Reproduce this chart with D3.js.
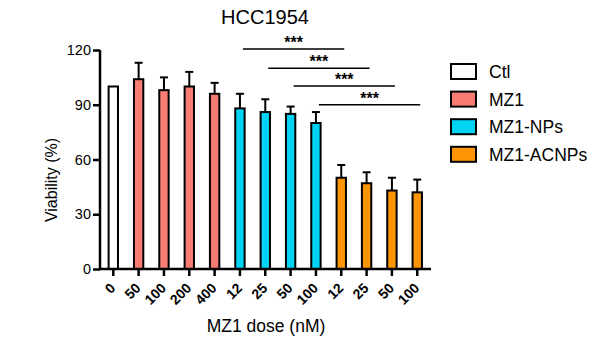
<!DOCTYPE html>
<html><head><meta charset="utf-8">
<script src="https://cdn.jsdelivr.net/npm/d3@7"></script>
<style>body{margin:0;background:#fff;} svg{display:block;font-family:"Liberation Sans",Arial,Helvetica,sans-serif;}</style>
</head><body><svg id="c" width="606" height="349"></svg>
<script>
const doseLabels = ["0","50","100","200","400","12","25","50","100","12","25","50","100"];
const groups = ["Ctl","MZ1","MZ1","MZ1","MZ1","MZ1-NPs","MZ1-NPs","MZ1-NPs","MZ1-NPs","MZ1-ACNPs","MZ1-ACNPs","MZ1-ACNPs","MZ1-ACNPs"];
const means = [100,104,98,100,96,88,86,85,80,50,47,43,42];
const errUpper = [100,113,105,108,102,96,93,89,86,57,53,50,49];
const legendNames = ["Ctl","MZ1","MZ1-NPs","MZ1-ACNPs"];
const legendColors = ["#ffffff","#f87c74","#00d4f4","#ff9505"];
const yTicks = [0,30,60,90,120];
const sigPairs = [[5,9],[6,10],[7,11],[8,12]];
const sigLevels = [120.5,110,100.3,90];
const sigLabels = ["***","***","***","***"];

const svg = d3.select("#c");
const x = d3.scaleBand().domain(d3.range(means.length)).range([95.95,434.6]).paddingInner(0.63).paddingOuter(0.5);
const y = d3.scaleLinear().domain([0,120]).range([269,50]);
const color = d3.scaleOrdinal().domain(legendNames).range(legendColors);

// bars
const g = svg.append("g");
means.forEach((m,i)=>{
  const cx = x(i)+x.bandwidth()/2;
  if (errUpper[i] > m) {
    g.append("line").attr("x1",cx).attr("x2",cx).attr("y1",y(m)).attr("y2",y(errUpper[i])).attr("stroke","#000").attr("stroke-width",2);
    g.append("line").attr("x1",cx-4).attr("x2",cx+4).attr("y1",y(errUpper[i])).attr("y2",y(errUpper[i])).attr("stroke","#000").attr("stroke-width",2);
  }
});
g.selectAll("rect").data(means).join("rect")
  .attr("x",(d,i)=>x(i)).attr("width",x.bandwidth())
  .attr("y",d=>y(d)).attr("height",d=>y(0)-y(d))
  .attr("fill",(d,i)=>color(groups[i])).attr("stroke","#000").attr("stroke-width",2);

// y axis
const ya = svg.append("g").attr("transform","translate(100,0)")
  .call(d3.axisLeft(y).tickValues(yTicks).tickSize(7).tickPadding(2));
ya.select(".domain").attr("stroke-width",2.5).attr("d",`M0,${y(120)}V${y(0)+1}`);
ya.selectAll(".tick line").attr("stroke-width",2.5);
ya.selectAll(".tick text").attr("font-size",14.5).attr("fill","#000").attr("font-family","Liberation Sans, Arial");

// x axis
const xa = svg.append("g").attr("transform",`translate(0,${y(0)})`)
  .call(d3.axisBottom(x).tickFormat(i=>doseLabels[i]).tickSize(7).tickPadding(4));
xa.select(".domain").attr("stroke-width",2.5).attr("d","M99,0H431");
xa.selectAll(".tick line").attr("stroke-width",2.5);
xa.selectAll(".tick text").attr("font-size",14).attr("font-weight","bold").attr("fill","#000")
  .attr("font-family","Liberation Sans, Arial")
  .attr("text-anchor","end").attr("x",0).attr("y",0).attr("dy",0)
  .attr("transform","translate(3,20) rotate(-45)");

// significance
sigPairs.forEach((p,k)=>{
  const x1 = x(p[0])+x.bandwidth()/2+3, x2 = x(p[1])+x.bandwidth()/2+3;
  const yy = y(sigLevels[k]);
  svg.append("line").attr("x1",x1).attr("x2",x2).attr("y1",yy).attr("y2",yy).attr("stroke","#000").attr("stroke-width",1.5);
  svg.append("text").attr("x",(x1+x2)/2).attr("y",yy-1).attr("text-anchor","middle")
    .attr("font-size",16).attr("font-weight","bold").text(sigLabels[k]);
});

// title & labels
svg.append("text").attr("x",265).attr("y",24).attr("text-anchor","middle").attr("font-size",20).text("HCC1954");
svg.append("text").attr("transform","translate(57,180) rotate(-90)").attr("text-anchor","middle").attr("font-size",16).text("Viability (%)");
svg.append("text").attr("x",266).attr("y",332).attr("text-anchor","middle").attr("font-size",17.5).text("MZ1 dose (nM)");

// legend
const lg = svg.append("g");
legendNames.forEach((n,i)=>{
  const yy = 64 + i*27.6;
  lg.append("rect").attr("x",451).attr("y",yy).attr("width",25).attr("height",15)
    .attr("fill",legendColors[i]).attr("stroke","#000").attr("stroke-width",2);
  lg.append("text").attr("x",489).attr("y",yy+14).attr("font-size",17.5).text(n);
});
</script></body></html>
